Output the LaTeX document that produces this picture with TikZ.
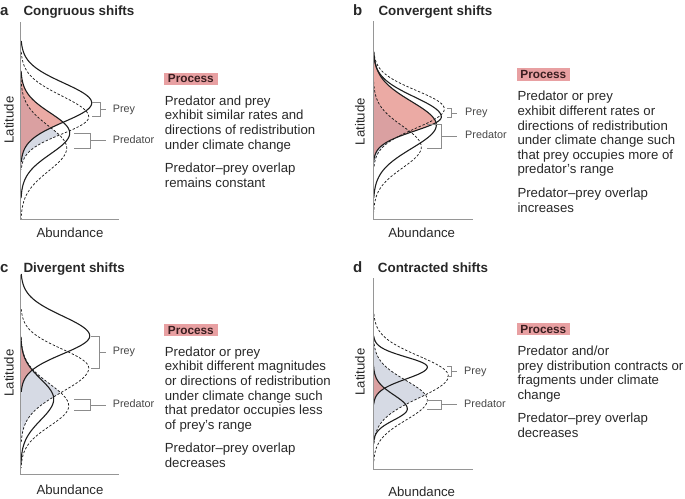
\documentclass[tikz,border=0pt]{standalone}
\usepackage{fontspec}
\setmainfont{Liberation Sans}
\definecolor{pinkL}{RGB}{235,170,164}
\definecolor{pinkD}{RGB}{218,160,161}
\definecolor{grayF}{RGB}{214,218,228}
\definecolor{procF}{RGB}{232,160,162}
\definecolor{procT}{RGB}{58,30,32}
\definecolor{axisC}{RGB}{150,150,150}
\definecolor{brC}{RGB}{140,140,140}
\definecolor{txt}{RGB}{40,40,40}
\definecolor{lab}{RGB}{70,70,70}
\definecolor{curveC}{RGB}{30,30,30}
\tikzset{
  solidc/.style={curveC, line width=1.1pt},
  dashc/.style={curveC, line width=0.75pt, dash pattern=on 2.4pt off 1.8pt},
  axisline/.style={axisC, line width=0.9pt},
  brline/.style={brC, line width=0.8pt},
  brlabel/.style={font=\fontsize{10.8}{12}\selectfont, text=lab, inner sep=0pt},
  bodytext/.style={font=\fontsize{13.2}{14.6}\selectfont, align=left, inner sep=0pt, text=txt, anchor=north west},
  procbox/.style={fill=procF, text=procT, font=\bfseries\fontsize{11.8}{12}\selectfont, minimum width=53.7pt, minimum height=12.3pt, inner sep=0pt},
  titlet/.style={font=\bfseries\fontsize{13.4}{14}\selectfont, text=txt, inner sep=0pt, anchor=base west},
  lettert/.style={font=\bfseries\fontsize{15}{16}\selectfont, text=txt, inner sep=0pt, anchor=base west},
  axlabel/.style={font=\fontsize{13.2}{14}\selectfont, text=txt, inner sep=0pt},
}
\newcommand\gcurve[6]{%
  \pgfmathsetmacro\gcA{#3-3.1*#5}\pgfmathsetmacro\gcB{#3+3.1*#6}%
  \draw[#1] plot[domain=\gcA:\gcB, samples=100, variable=\t] ({#2+g(\t,#3,#4,#5,#6)},{\t});}
\newcommand\mfill[6]{%
  \fill[#1] plot[domain=#5:#6, samples=150, variable=\t] ({#2+min(g(\t,#3),g(\t,#4))},{\t}) -- cycle;}
\newcommand\mclip[5]{%
  \clip plot[domain=#4:#5, samples=150, variable=\t] ({#1+min(g(\t,#2),g(\t,#3))},{\t}) -- cycle;}
\newcommand\brk[8]{% name, xl, xr, yt, yb, xs, labelx, label
  \coordinate (#1tl) at (#2,#4); \coordinate (#1tr) at (#3,#4);
  \coordinate (#1br) at (#3,#5); \coordinate (#1bl) at (#2,#5);
  \coordinate (#1m) at (#3,{(#4+#5)/2}); \coordinate (#1s) at (#6,{(#4+#5)/2});
  \draw[brline] (#1tl) -- (#1tr) -- (#1br) -- (#1bl);
  \draw[brline] (#1m) -- (#1s);
  \node[brlabel, anchor=mid west] (#1lab) at (#7,{(#4+#5)/2}) {#8};}
\newcommand\axes[5]{% name, x0, ytop, ybot, xright
  \coordinate (#1T) at (#2,#3); \coordinate (#1O) at (#2,#4); \coordinate (#1R) at (#5,#4);
  \draw[axisline] (#1T) -- (#1O) -- (#1R);}
\begin{document}
\begin{tikzpicture}[x=1pt,y=-1pt,
  declare function={g(\gy,\gm,\ga,\gu,\gd)=\ga*exp(-0.5*((\gy-\gm)/ifthenelse(\gy<\gm,\gu,\gd))*((\gy-\gm)/ifthenelse(\gy<\gm,\gu,\gd)));}]
\useasboundingbox (0,0) rectangle (685,498);

% ---------------- panel a ----------------
\mfill{grayF}{20.7}{117,68,21,17}{148,46,22,23}{80}{175}
\mfill{pinkL}{20.7}{103,71,20,19}{133,49,20,21}{71}{165}
\begin{scope}
  \mclip{20.7}{117,68,21,17}{148,46,22,23}{80}{175}
  \mfill{pinkD}{20.7}{103,71,20,19}{133,49,20,21}{71}{165}
\end{scope}
\gcurve{dashc}{20.7}{117}{68}{21}{17}
\gcurve{dashc}{20.7}{148}{46}{22}{23}
\gcurve{solidc}{20.7}{103}{71}{20}{19}
\gcurve{solidc}{20.7}{133}{49}{20}{21}
\axes{a}{20.7}{22}{219}{119}
\brk{aPrey}{91.7}{100}{102.7}{116.7}{106}{112.7}{Prey}
\brk{aPred}{74}{90}{133.3}{148.3}{106}{112.7}{Predator}
\node[lettert] (aLetter) at (0,15.3) {a};
\node[titlet] (aTitle) at (23.3,15.3) {Congruous shifts};
\node[axlabel, rotate=90] (aLat) at (9,120) {Latitude};
\node[axlabel] (aAb) at (70,233) {Abundance};
\node[procbox] (aProc) at (190.85,78.85) {Process};
\node[bodytext] (aText) at (164.7,95.5) {Predator and prey\\exhibit similar rates and\\directions of redistribution\\under climate change\\[9pt]Predator–prey overlap\\remains constant};

% ---------------- panel b ----------------
\mfill{grayF}{373.3}{109,71,18.5,19}{147,48,21,21}{82}{168}
\mfill{pinkL}{373.3}{117,68,20,14}{125,63,23.5,23.5}{52}{161}
\begin{scope}
  \mclip{373.3}{109,71,18.5,19}{147,48,21,21}{82}{168}
  \mfill{pinkD}{373.3}{117,68,20,14}{125,63,23.5,23.5}{52}{161}
\end{scope}
\gcurve{dashc}{373.3}{109}{71}{18.5}{19}
\gcurve{dashc}{373.3}{147}{48}{21}{21}
\gcurve{solidc}{373.3}{117}{68}{20}{14}
\gcurve{solidc}{373.3}{125}{63}{23.5}{23.5}
\axes{b}{373.3}{21}{219}{472.7}
\brk{bPrey}{447}{451}{108.5}{117.5}{457}{465}{Prey}
\brk{bPred}{427}{441.7}{124.5}{148}{457}{465}{Predator}
\node[lettert] (bLetter) at (353,15.3) {b};
\node[titlet] (bTitle) at (378.3,15.3) {Convergent shifts};
\node[axlabel, rotate=90] (bLat) at (360,121.7) {Latitude};
\node[axlabel] (bAb) at (421.7,233) {Abundance};
\node[procbox] (bProc) at (543.35,74.5) {Process};
\node[bodytext] (bText) at (517.3,91.1) {Predator or prey\\exhibit different rates or\\directions of redistribution\\under climate change such\\that prey occupies more of\\predator’s range\\[9pt]Predator–prey overlap\\increases};

% ---------------- panel c ----------------
\mfill{grayF}{20.7}{368,68,19,24}{406,48,22,20}{338}{442}
\mfill{pinkL}{20.7}{336,69,20,18}{399,33,20,21}{337}{392}
\begin{scope}
  \mclip{20.7}{368,68,19,24}{406,48,22,20}{338}{442}
  \mfill{pinkD}{20.7}{336,69,20,18}{399,33,20,21}{337}{392}
\end{scope}
\gcurve{dashc}{20.7}{368}{68}{19}{24}
\gcurve{dashc}{20.7}{406}{48}{22}{20}
\gcurve{solidc}{20.7}{336}{69}{20}{18}
\gcurve{solidc}{20.7}{399}{33}{20}{21}
\axes{c}{20.7}{275}{474}{119}
\brk{cPrey}{90.7}{99.3}{336}{368.3}{106}{112.7}{Prey}
\brk{cPred}{74}{90}{399.3}{410.7}{106}{112.7}{Predator}
\node[lettert] (cLetter) at (0,272) {c};
\node[titlet] (cTitle) at (23.3,272) {Divergent shifts};
\node[axlabel, rotate=90] (cLat) at (9,373) {Latitude};
\node[axlabel] (cAb) at (70,490) {Abundance};
\node[procbox] (cProc) at (190.85,330) {Process};
\node[bodytext] (cText) at (164.7,346.6) {Predator or prey\\exhibit different magnitudes\\or directions of redistribution\\under climate change such\\that predator occupies less\\of prey’s range\\[9pt]Predator–prey overlap\\decreases};

% ---------------- panel d ----------------
\mfill{grayF}{373.3}{376,75,20,22}{400,54,19.5,20}{340}{444}
\mfill{pinkL}{373.3}{367,54,10,12}{409,34,14,11}{366}{404}
\begin{scope}
  \mclip{373.3}{376,75,20,22}{400,54,19.5,20}{340}{444}
  \mfill{pinkD}{373.3}{367,54,10,12}{409,34,14,11}{366}{404}
\end{scope}
\gcurve{dashc}{373.3}{376}{75}{20}{22}
\gcurve{dashc}{373.3}{400}{54}{19.5}{20}
\gcurve{solidc}{373.3}{367}{54}{10}{12}
\gcurve{solidc}{373.3}{409}{34}{14}{11}
\axes{d}{373.3}{278}{469}{472.7}
\brk{dPrey}{447.3}{451}{366.7}{376.7}{457.3}{464}{Prey}
\brk{dPred}{427.3}{441.7}{400}{409.3}{457.3}{464}{Predator}
\node[lettert] (dLetter) at (353,272) {d};
\node[titlet] (dTitle) at (377.7,272) {Contracted shifts};
\node[axlabel, rotate=90] (dLat) at (360,372) {Latitude};
\node[axlabel] (dAb) at (421.7,491.5) {Abundance};
\node[procbox] (dProc) at (543.35,329.2) {Process};
\node[bodytext] (dText) at (517.3,345.8) {Predator and/or\\prey distribution contracts or\\fragments under climate\\change\\[9pt]Predator–prey overlap\\decreases};
\end{tikzpicture}
\end{document}
